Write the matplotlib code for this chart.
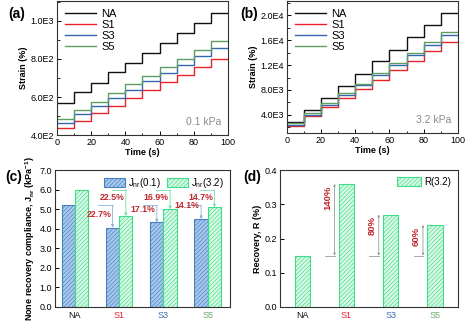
import numpy as np
import matplotlib
matplotlib.use('Agg')
import matplotlib.pyplot as plt
from matplotlib.ticker import MultipleLocator, FuncFormatter

plt.rcParams['font.family'] = ['Liberation Sans', 'DejaVu Sans']
plt.rcParams['mathtext.default'] = 'regular'
plt.rcParams['hatch.linewidth'] = 0.45

# ---- data ----
samples = ['NA', 'S1', 'S3', 'S5']
line_colors = ['#111111', '#e8212b', '#3567b0', '#5e9e62']
tick_colors = ['#111111', '#e8212b', '#3c6fb3', '#6aa86a']

time_steps = [0, 10, 20, 30, 40, 50, 60, 70, 80, 90, 100]

strain_01 = {
    'NA': [569, 624, 676, 729, 781, 833, 883, 936, 988, 1040],
    'S1': [435, 475, 517, 555, 597, 635, 677, 718, 757, 797],
    'S3': [464, 510, 551, 595, 638, 682, 725, 769, 814, 857],
    'S5': [487, 530, 574, 621, 666, 711, 757, 802, 847, 892],
}
strain_32 = {
    'NA': [2780, 4800, 6650, 8660, 10630, 12590, 14490, 16460, 18420, 20320],
    'S1': [2250, 3735, 5220, 6650, 8080, 9565, 11155, 12590, 14180, 15770],
    'S3': [2410, 4000, 5540, 7180, 8770, 10410, 12050, 13650, 15240, 16830],
    'S5': [2675, 4265, 5855, 7445, 9035, 10730, 12370, 13960, 15660, 17250],
}

jnr_01 = [5.2, 4.05, 4.33, 4.5]
jnr_32 = [6.0, 4.65, 5.0, 5.1]
pct_01 = ['', '22.7%', '17.1%', '14.1%']
pct_32 = ['', '22.5%', '16.9%', '14.7%']

recovery = [0.15, 0.36, 0.27, 0.24]
pct_rec = ['', '140%', '80%', '60%']

blue_face, blue_edge = '#a6c8ec', '#4a80c2'
green_face, green_edge = '#d9f9e6', '#3edc86'
red_txt = '#c0262d'


def sci(v, pos):
    if v == 0:
        return '0'
    e = int(np.floor(np.log10(abs(v))))
    return f'{v / 10**e:.1f}E{e}'


def style(ax):
    ax.tick_params(direction='in', length=3, width=0.7, labelsize=6.5, pad=2)
    ax.tick_params(which='minor', direction='in', length=1.8, width=0.6)
    for s in ax.spines.values():
        s.set_linewidth(0.8)
        s.set_color('#333333')


fig = plt.figure(figsize=(4.74, 3.21), dpi=100)

# ---- (a) / (b) strain steps ----
panels = [
    (fig.add_axes([0.120, 0.579, 0.361, 0.418]), strain_01, (400, 1104), 200, 100, '0.1 kPa'),
    (fig.add_axes([0.605, 0.586, 0.361, 0.411]), strain_32, (1100, 22300), 4000, 2000, '3.2 kPa'),
]
for ax, data, ylim, major, minor, lbl in panels:
    for name, col in zip(samples, line_colors):
        vals = data[name] + [data[name][-1]]
        ax.step(time_steps, vals, where='post', color=col, lw=1.0, label=name)
    ax.set_xlim(0, 100)
    ax.set_ylim(*ylim)
    ax.xaxis.set_major_locator(MultipleLocator(20))
    ax.xaxis.set_minor_locator(MultipleLocator(10))
    ax.yaxis.set_major_locator(MultipleLocator(major))
    ax.yaxis.set_minor_locator(MultipleLocator(minor))
    ax.yaxis.set_major_formatter(FuncFormatter(sci))
    ax.set_xlabel('Time (s)', fontsize=6.5, fontweight='bold', labelpad=1)
    ax.set_ylabel('Strain (%)', fontsize=6.5, fontweight='bold', labelpad=2)
    ax.text(0.96, 0.06, lbl, transform=ax.transAxes, ha='right', va='bottom',
            fontsize=7.5, color='#8a8a8a')
    ax.legend(loc='upper left', frameon=False, fontsize=8, handlelength=2.8,
              labelspacing=0.1, borderaxespad=0.3, handletextpad=0.5)
    style(ax)

# ---- (c) non recovery compliance ----
axc = fig.add_axes([0.116, 0.044, 0.369, 0.426])
x = np.arange(len(samples))
w = 0.3
axc.bar(x - w / 2, jnr_01, w, color=blue_face, edgecolor=blue_edge, hatch='////////',
        lw=0.8, label=r'J$_{nr}$(0.1)')
axc.bar(x + w / 2, jnr_32, w, color=green_face, edgecolor=green_edge, hatch='////////',
        lw=0.8, label=r'J$_{nr}$(3.2)')
for i in range(1, len(samples)):
    xb, xg = x[i] - w / 2, x[i] + w / 2
    axc.plot([xb - 0.32, xb], [jnr_01[0], jnr_01[0]], color='#86b4e2', lw=0.6)
    axc.annotate('', xy=(xb, jnr_01[i]), xytext=(xb, jnr_01[0]),
                 arrowprops=dict(arrowstyle='-|>', color='#86b4e2', lw=0.6,
                                 mutation_scale=4, shrinkA=0, shrinkB=0))
    axc.text(xb - 0.03, jnr_01[i] + 0.68, pct_01[i], ha='right', va='center',
             fontsize=6.3, fontweight='bold', color=red_txt)
    axc.plot([xg - 0.32, xg], [jnr_32[0], jnr_32[0]], color='#74e0a5', lw=0.6)
    axc.annotate('', xy=(xg, jnr_32[i]), xytext=(xg, jnr_32[0]),
                 arrowprops=dict(arrowstyle='-|>', color='#74e0a5', lw=0.6,
                                 mutation_scale=4, shrinkA=0, shrinkB=0))
    axc.text(xg - 0.03, jnr_32[0] - 0.38, pct_32[i], ha='right', va='center',
             fontsize=6.3, fontweight='bold', color=red_txt)
axc.set_xlim(-0.45, 3.5)
axc.set_ylim(0, 7)
axc.yaxis.set_major_locator(MultipleLocator(1))
axc.yaxis.set_major_formatter(FuncFormatter(lambda v, p: f'{v:.1f}'))
axc.set_xticks(x)
axc.set_xticklabels(samples)
for t, c in zip(axc.get_xticklabels(), tick_colors):
    t.set_color(c)
axc.set_ylabel(r'None recovery compliance, J$_{nr}$ (kPa$^{-1}$)', fontsize=6.5,
               fontweight='bold', labelpad=2)
axc.legend(loc='upper right', ncol=2, frameon=False, fontsize=7, handlelength=2.2,
           handleheight=1.0, columnspacing=0.6, handletextpad=0.3, borderaxespad=0.2)
style(axc)
axc.tick_params(axis='x', length=0, pad=3)

# ---- (d) recovery ----
axd = fig.add_axes([0.591, 0.044, 0.375, 0.426])
wd = 0.35
axd.bar(x, recovery, wd, color=green_face, edgecolor=green_edge, hatch='////////',
        lw=0.8, label='R(3.2)')
for i in range(1, len(samples)):
    xv = x[i] - 0.27
    axd.plot([x[i] - 0.48, xv], [recovery[0], recovery[0]], color='#9a9a9a', lw=0.6)
    axd.annotate('', xy=(xv, recovery[i]), xytext=(xv, recovery[0]),
                 arrowprops=dict(arrowstyle='<|-|>', color='#9a9a9a', lw=0.6,
                                 mutation_scale=3, shrinkA=0, shrinkB=0))
    axd.text(xv - 0.05, recovery[i] - 0.005, pct_rec[i], ha='right', va='top',
             rotation=90, fontsize=6.8, fontweight='bold', color=red_txt)
axd.set_xlim(-0.5, 3.52)
axd.set_ylim(0, 0.4)
axd.yaxis.set_major_locator(MultipleLocator(0.1))
axd.yaxis.set_major_formatter(FuncFormatter(lambda v, p: f'{v:.1f}'))
axd.set_xticks(x)
axd.set_xticklabels(samples)
for t, c in zip(axd.get_xticklabels(), tick_colors):
    t.set_color(c)
axd.set_ylabel('Recovery, R (%)', fontsize=6.5, fontweight='bold', labelpad=2)
axd.legend(loc='upper right', frameon=False, fontsize=7, handlelength=2.5,
           handleheight=1.0, handletextpad=0.3, borderaxespad=0.3)
style(axd)
axd.tick_params(axis='x', length=0, pad=3)

# panel letters
for lbl, px, py in [('(a)', 8, 14), ('(b)', 240, 14), ('(c)', 5, 177), ('(d)', 243, 177)]:
    fig.text(px / 474, 1 - py / 321, lbl, fontsize=10, fontweight='bold', va='center')

fig.savefig('out.png', dpi=100)
